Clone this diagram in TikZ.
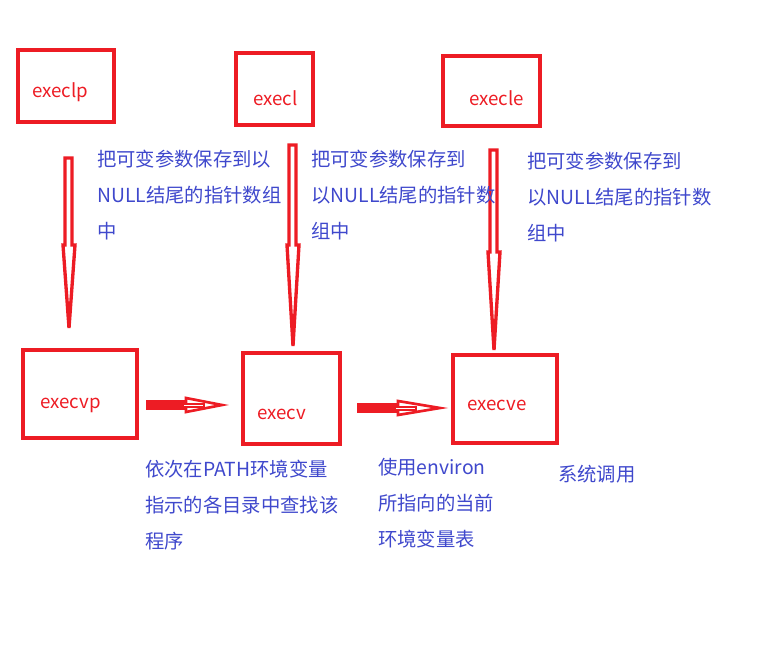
\documentclass[tikz,border=0pt]{standalone}
\usepackage{fontspec}
\setmainfont{Noto Sans CJK SC}
\begin{document}
\begin{tikzpicture}[x=0.75pt,y=-0.75pt,
  box/.style={draw=rd,line width=3pt},
  rt/.style={text=rd,font=\fontsize{14}{16}\selectfont,anchor=west,inner sep=0},
  bt/.style={text=bl,font=\fontsize{14.5}{27}\selectfont,anchor=north west,align=left,inner sep=0},
  arr/.style={draw=rd,line width=2.5pt,fill=white,line join=miter}]
\definecolor{rd}{RGB}{237,28,36}
\definecolor{bl}{RGB}{63,72,204}
\useasboundingbox (0,0) rectangle (781,663);
\draw[box] (18,50) rectangle (114,122); \node[rt] (a) at (32,92) {execlp};
\draw[box] (236,53) rectangle (313,125); \node[rt] (b) at (253,98) {execl};
\draw[box] (443,56) rectangle (540,126); \node[rt] (c) at (469,98) {execle};
\draw[box] (23,350) rectangle (137,438); \node[rt] (d) at (40,405) {execvp};
\draw[box] (243,353) rectangle (340,444); \node[rt] (e) at (257,414) {execv};
\draw[box] (453,355) rectangle (557,443); \node[rt] (f) at (467,405) {execve};
% vertical arrows
\draw[arr] (65,158)--(72,158)--(72,245)--(75,245)--(69,328)--(63,245)--(65,245)--cycle;
\draw[arr] (289,145)--(296,145)--(296,245)--(299,245)--(293,346)--(287,245)--(289,245)--cycle;
\draw[arr] (490,150)--(497,150)--(497,252)--(500,252)--(494,350)--(488,252)--(490,252)--cycle;
% horizontal arrows
\fill[rd] (146,400) rectangle (186,410);
\draw[arr,line width=2pt] (186,398)--(186,412)--(222,405)--cycle;
\draw[arr,line width=1.5pt] (184,403.5)--(204,403.5)--(204,406.5)--(184,406.5);
\fill[rd] (357,403) rectangle (398,413);
\draw[arr,line width=2pt] (398,401)--(398,415)--(440,408)--cycle;
\draw[arr,line width=1.5pt] (396,406.5)--(416,406.5)--(416,409.5)--(396,409.5);
\node[bt] (t1) at (97,150) {把可变参数保存到以\\NULL结尾的指针数组\\中};
\node[bt] (t2) at (311,150) {把可变参数保存到\\以NULL结尾的指针数\\组中};
\node[bt] (t3) at (527,152) {把可变参数保存到\\以NULL结尾的指针数\\组中};
\node[bt] (t4) at (145,460) {依次在PATH环境变量\\指示的各目录中查找该\\程序};
\node[bt] (t5) at (378,458) {使用environ\\所指向的当前\\环境变量表};
\node[bt] (t6) at (558,465) {系统调用};
\end{tikzpicture}
\end{document}
